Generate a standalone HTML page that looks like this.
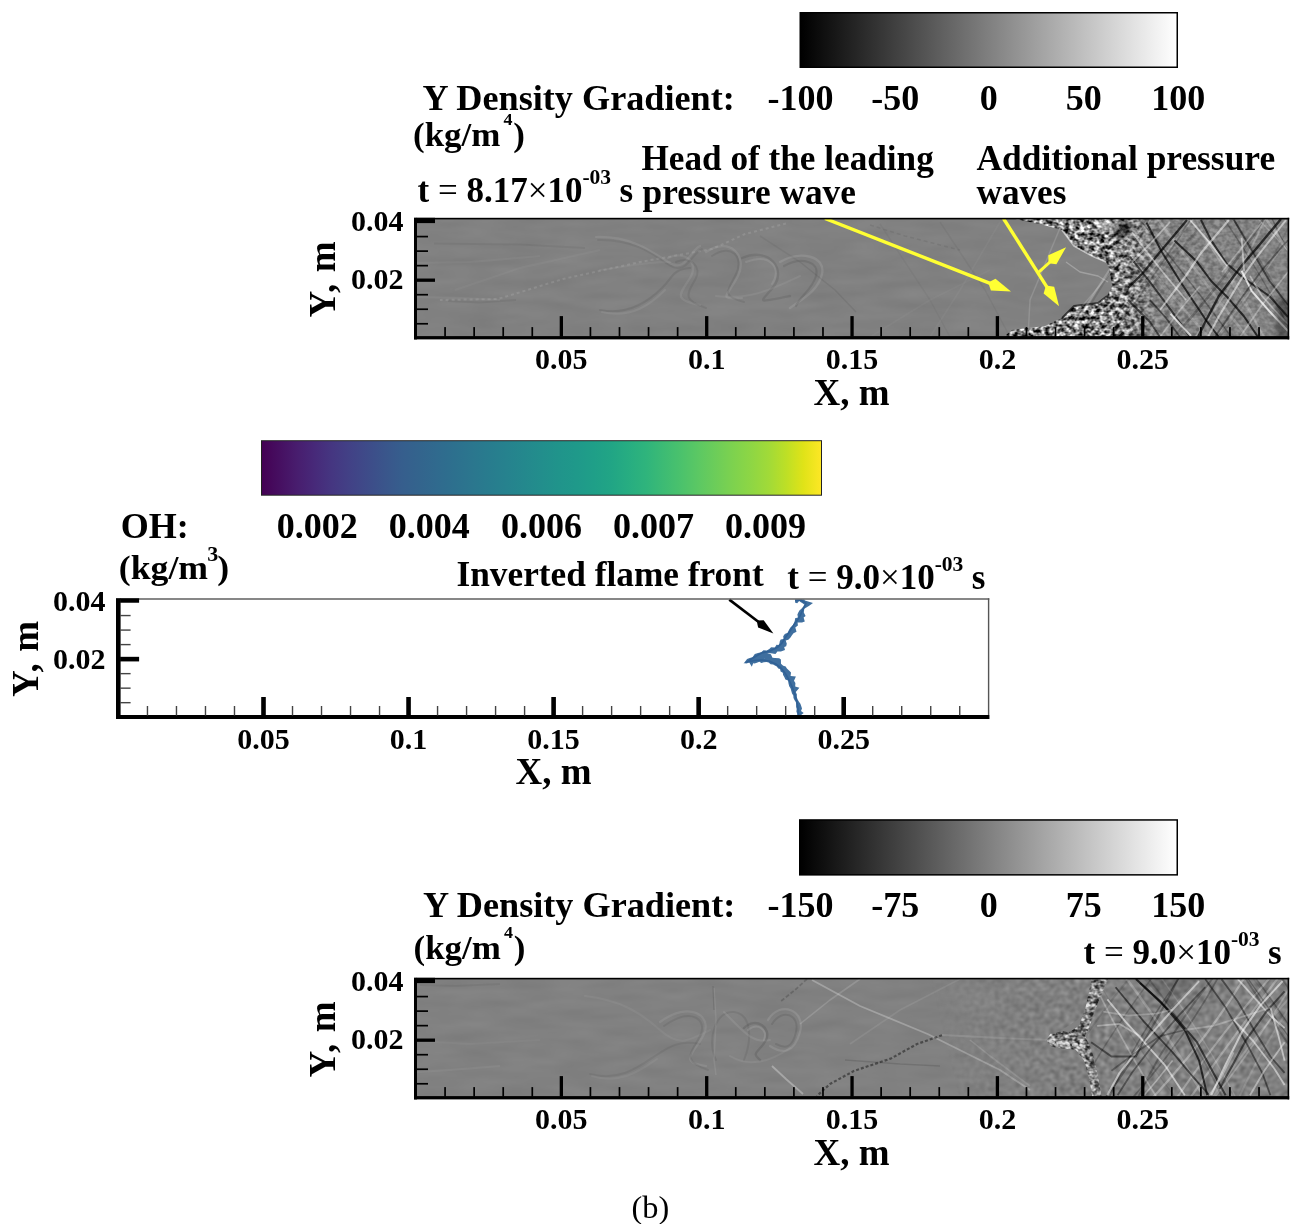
<!DOCTYPE html>
<html lang="en"><head><meta charset="utf-8"><title>Figure (b)</title>
<style>html,body{margin:0;padding:0;background:#fff}svg{display:block}text{font-family:"Liberation Serif", serif;fill:#000}</style>
</head><body>
<svg width="1301" height="1224" viewBox="0 0 1301 1224">
<defs>
<linearGradient id="gray" x1="0" x2="1" y1="0" y2="0"><stop offset="0" stop-color="#000"/><stop offset="1" stop-color="#fff"/></linearGradient>
<linearGradient id="vir" x1="0" x2="1" y1="0" y2="0"><stop offset="0.0000" stop-color="#440154"/><stop offset="0.0312" stop-color="#460f61"/><stop offset="0.0625" stop-color="#481d6e"/><stop offset="0.0938" stop-color="#472979"/><stop offset="0.1250" stop-color="#453681"/><stop offset="0.1562" stop-color="#424186"/><stop offset="0.1875" stop-color="#3e4b89"/><stop offset="0.2188" stop-color="#3a558b"/><stop offset="0.2500" stop-color="#365e8d"/><stop offset="0.2812" stop-color="#33648d"/><stop offset="0.3125" stop-color="#306a8e"/><stop offset="0.3438" stop-color="#2d708e"/><stop offset="0.3750" stop-color="#2b768e"/><stop offset="0.4062" stop-color="#287c8e"/><stop offset="0.4375" stop-color="#26828e"/><stop offset="0.4688" stop-color="#24888d"/><stop offset="0.5000" stop-color="#228e8c"/><stop offset="0.5312" stop-color="#20948b"/><stop offset="0.5625" stop-color="#1f998a"/><stop offset="0.5938" stop-color="#1f9f88"/><stop offset="0.6250" stop-color="#21a585"/><stop offset="0.6562" stop-color="#27ad81"/><stop offset="0.6875" stop-color="#2fb47c"/><stop offset="0.7188" stop-color="#3dbb74"/><stop offset="0.7500" stop-color="#4bc26c"/><stop offset="0.7812" stop-color="#5cc863"/><stop offset="0.8125" stop-color="#6dcd59"/><stop offset="0.8438" stop-color="#7ed24e"/><stop offset="0.8750" stop-color="#8ed644"/><stop offset="0.9062" stop-color="#a1da38"/><stop offset="0.9375" stop-color="#bddf26"/><stop offset="0.9688" stop-color="#e0e318"/><stop offset="1.0000" stop-color="#fde725"/></linearGradient>
<linearGradient id="fade" x1="0" x2="1" y1="0" y2="0"><stop offset="0" stop-color="#828282" stop-opacity="0"/><stop offset="0.12" stop-color="#828282" stop-opacity="0.15"/><stop offset="0.3" stop-color="#828282" stop-opacity="0.8"/><stop offset="1" stop-color="#828282" stop-opacity="0.88"/></linearGradient>
<linearGradient id="mfg" x1="0" x2="1" y1="0" y2="0"><stop offset="0" stop-color="#000"/><stop offset="0.5" stop-color="#555"/><stop offset="1" stop-color="#aaa"/></linearGradient>
<mask id="mfade" maskUnits="userSpaceOnUse" x="925" y="970" width="200" height="140"><rect x="925" y="970" width="200" height="140" fill="url(#mfg)"/></mask>
<filter id="soft" x="-0.05" y="-0.05" width="1.1" height="1.1"><feGaussianBlur stdDeviation="0.6"/></filter>
<filter id="soft2" x="-0.05" y="-0.05" width="1.1" height="1.1"><feGaussianBlur stdDeviation="0.5"/></filter>
<clipPath id="clip1"><rect x="414" y="218" width="875" height="121"/></clipPath>
<clipPath id="clip3"><rect x="414" y="978" width="875" height="121"/></clipPath>
<filter id="noiseA" x="0" y="0" width="1" height="1" color-interpolation-filters="sRGB"><feTurbulence type="fractalNoise" baseFrequency="0.2 0.24" numOctaves="2" seed="7" result="t"/><feColorMatrix in="t" type="matrix" values="2.2 0 0 0 -0.6  2.2 0 0 0 -0.6  2.2 0 0 0 -0.6  0 0 0 0 1"/><feGaussianBlur stdDeviation="0.7"/></filter>
<filter id="noiseB" x="0" y="0" width="1" height="1" color-interpolation-filters="sRGB"><feTurbulence type="fractalNoise" baseFrequency="0.2 0.24" numOctaves="2" seed="19" result="t"/><feColorMatrix in="t" type="matrix" values="1.6 0 0 0 -0.3  1.6 0 0 0 -0.3  1.6 0 0 0 -0.3  0 0 0 0 1"/><feGaussianBlur stdDeviation="0.8"/></filter>
<filter id="mottle" x="0" y="0" width="1" height="1" color-interpolation-filters="sRGB"><feTurbulence type="fractalNoise" baseFrequency="0.02 0.09" numOctaves="2" seed="4" result="t"/><feColorMatrix in="t" type="matrix" values="1 0 0 0 0  1 0 0 0 0  1 0 0 0 0  0 0 0 0 1"/></filter>
<filter id="blur2" x="-0.5" y="-0.5" width="2" height="2"><feGaussianBlur stdDeviation="2.5"/></filter>
</defs>
<rect x="0.00" y="0.00" width="1301.00" height="1224.00" fill="#fff" />
<rect x="799.50" y="12.00" width="378.50" height="56.00" fill="#000" />
<rect x="801.00" y="13.50" width="375.50" height="53.00" fill="url(#gray)" />
<text x="800.50" y="110.40" font-size="36" font-weight="bold" text-anchor="middle" >-100</text>
<text x="895.20" y="110.40" font-size="36" font-weight="bold" text-anchor="middle" >-50</text>
<text x="988.80" y="110.40" font-size="36" font-weight="bold" text-anchor="middle" >0</text>
<text x="1083.80" y="110.40" font-size="36" font-weight="bold" text-anchor="middle" >50</text>
<text x="1178.20" y="110.40" font-size="36" font-weight="bold" text-anchor="middle" >100</text>
<text x="422.50" y="110.40" font-size="36.2" font-weight="bold" text-anchor="start" >Y Density Gradient:</text>
<text transform="translate(413.00 145.80) scale(1.06 1)" font-size="33" font-weight="bold">(kg/m<tspan font-size="17" dy="-20.5" dx="3.0">4</tspan><tspan dy="20.5" dx="0.5">)</tspan></text>
<text x="417.50" y="201.60" font-size="35" font-weight="bold">t <tspan font-weight="normal">=</tspan> 8.17<tspan font-weight="normal">×</tspan>10<tspan font-size="21.5" dy="-18">-03</tspan><tspan dy="18" dx="-0.3"> s</tspan></text>
<text x="641.50" y="170.20" font-size="35.2" font-weight="bold" text-anchor="start" >Head of the leading</text>
<text x="642.50" y="204.30" font-size="35.3" font-weight="bold" text-anchor="start" >pressure wave</text>
<text x="976.50" y="170.20" font-size="35.4" font-weight="bold" text-anchor="start" >Additional pressure</text>
<text x="976.50" y="204.30" font-size="35.2" font-weight="bold" text-anchor="start" >waves</text>
<g clip-path="url(#clip1)">
<rect x="414.00" y="217.80" width="875.20" height="121.60" fill="#818181" />
<rect x="414.00" y="217.80" width="875.20" height="121.60" fill="#808080" filter="url(#mottle)" opacity="0.05"/>
<g opacity="0.5" filter="url(#soft)">
<path d="M434.0 243.5 L520.0 244.5 L585.0 248.0" fill="none" stroke="#000" stroke-opacity="0.1" stroke-width="2" stroke-linejoin="round" />
<path d="M448.0 301.0 L480.0 302.5 L516.0 300.0" fill="none" stroke="#000" stroke-opacity="0.12" stroke-width="2" stroke-linejoin="round" />
<path d="M417.0 263.0 L470.0 262.0 L540.0 256.0" fill="none" stroke="#fff" stroke-opacity="0.08" stroke-width="2" stroke-linejoin="round" />
<path d="M417.0 297.0 L460.0 298.0 L500.0 300.0" fill="none" stroke="#fff" stroke-opacity="0.1" stroke-width="2" stroke-linejoin="round" />
<path d="M786.0 223.5 L745.0 234.0 L712.0 249.0 L640.0 262.0 L563.0 279.0 L498.0 299.0 L440.0 300.0" fill="none" stroke="#fff" stroke-opacity="0.22" stroke-width="2" stroke-linejoin="round" stroke-dasharray="3 3" />
<path d="M455.0 290.0 L520.0 268.0 L600.0 250.0" fill="none" stroke="#fff" stroke-opacity="0.07" stroke-width="2" stroke-linejoin="round" />
<path d="M596 237 C630 236 650 250 668 262 S690 250 700 246" fill="none" stroke="#fff" stroke-opacity="0.16" stroke-width="2.2" stroke-linecap="round" />
<path d="M598 240 C632 239 652 253 669 265 S692 253 702 249" fill="none" stroke="#000" stroke-opacity="0.12" stroke-width="2" stroke-linecap="round" />
<path d="M600 310 C630 316 650 300 662 288 S672 270 690 268" fill="none" stroke="#000" stroke-opacity="0.16" stroke-width="2.2" stroke-linecap="round" />
<path d="M602 312 C633 319 652 303 665 290" fill="none" stroke="#fff" stroke-opacity="0.14" stroke-width="2" stroke-linecap="round" />
<path d="M668 258 C684 250 700 262 690 278 S672 300 700 305" fill="none" stroke="#fff" stroke-opacity="0.15" stroke-width="2.2" stroke-linecap="round" />
<path d="M676 262 C690 256 703 266 695 280 S682 300 706 308" fill="none" stroke="#000" stroke-opacity="0.14" stroke-width="2" stroke-linecap="round" />
<path d="M706 252 C730 236 748 256 738 276 S716 300 742 298" fill="none" stroke="#fff" stroke-opacity="0.18" stroke-width="2.2" stroke-linecap="round" />
<path d="M712 256 C732 242 744 258 736 274 S720 296 744 302" fill="none" stroke="#000" stroke-opacity="0.15" stroke-width="2" stroke-linecap="round" />
<path d="M742 258 C770 246 786 270 774 286 S752 304 790 296" fill="none" stroke="#000" stroke-opacity="0.18" stroke-width="2.4" stroke-linecap="round" />
<path d="M746 262 C772 252 782 270 772 284" fill="none" stroke="#fff" stroke-opacity="0.18" stroke-width="2" stroke-linecap="round" />
<path d="M780 262 C800 250 826 256 822 274 S800 300 790 308" fill="none" stroke="#fff" stroke-opacity="0.2" stroke-width="2.4" stroke-linecap="round" />
<path d="M784 266 C802 256 820 262 816 276 S800 296 796 306" fill="none" stroke="#000" stroke-opacity="0.18" stroke-width="2.2" stroke-linecap="round" />
<path d="M716 296 C750 300 770 290 800 276" fill="none" stroke="#fff" stroke-opacity="0.12" stroke-width="2" stroke-linecap="round" />
<path d="M670 262 C640 262 620 268 600 270" fill="none" stroke="#fff" stroke-opacity="0.1" stroke-width="2" stroke-linecap="round" />
<path d="M800.0 262.0 L835.0 290.0 L856.0 312.0" fill="none" stroke="#000" stroke-opacity="0.14" stroke-width="1.6" stroke-linejoin="round" />
<path d="M760.0 236.0 L800.0 262.0" fill="none" stroke="#000" stroke-opacity="0.1" stroke-width="1.6" stroke-linejoin="round" />
<path d="M870.0 225.0 L905.0 236.0 L960.0 250.0" fill="none" stroke="#000" stroke-opacity="0.14" stroke-width="1.6" stroke-linejoin="round" stroke-dasharray="4 3" />
<path d="M880.0 224.0 L930.0 300.0 L950.0 337.0" fill="none" stroke="#000" stroke-opacity="0.07" stroke-width="1.5" stroke-linejoin="round" />
<path d="M940.0 222.0 L985.0 290.0 L1010.0 337.0" fill="none" stroke="#000" stroke-opacity="0.09" stroke-width="1.5" stroke-linejoin="round" />
<path d="M1000.0 222.0 L960.0 290.0 L930.0 337.0" fill="none" stroke="#fff" stroke-opacity="0.07" stroke-width="1.5" stroke-linejoin="round" />
<path d="M870.0 337.0 L930.0 300.0 L990.0 270.0" fill="none" stroke="#fff" stroke-opacity="0.06" stroke-width="1.5" stroke-linejoin="round" />
</g>
<clipPath id="np1"><polygon points="1010,218 1290,218 1290,340 1000,340 1012,330 1045,326 1062,318 1074,306 1098,303 1107,296 1112,286 1109,268 1106,262 1092,256 1074,246 1062,230 1040,224"/></clipPath>
<g clip-path="url(#np1)">
<rect x="995.00" y="217.80" width="300.00" height="121.60" fill="#808080" filter="url(#noiseA)"/>
<rect x="1100" y="215" width="195" height="130" fill="url(#fade)"/>
</g>
<ellipse cx="1122" cy="230" rx="9" ry="10" fill="#000" opacity="0.55" filter="url(#blur2)"/>
<ellipse cx="1106" cy="226" rx="10" ry="5" fill="#fff" opacity="0.5" filter="url(#blur2)"/>
<path d="M1062.0 230.0 L1074.0 246.0 L1092.0 256.0 L1106.0 262.0" fill="none" stroke="#fff" stroke-opacity="0.55" stroke-width="1.6" stroke-linejoin="round" />
<path d="M1066.0 262.0 L1080.0 272.0 L1098.0 276.0 L1108.0 282.0" fill="none" stroke="#fff" stroke-opacity="0.25" stroke-width="1.4" stroke-linejoin="round" />
<path d="M1062.0 318.0 L1074.0 306.0 L1098.0 303.0 L1107.0 296.0" fill="none" stroke="#000" stroke-opacity="0.6" stroke-width="1.8" stroke-linejoin="round" />
<path d="M1060.0 228.0 L1030.0 300.0 L1028.0 337.0" fill="none" stroke="#fff" stroke-opacity="0.14" stroke-width="1.5" stroke-linejoin="round" />
<g filter="url(#soft2)">
<path d="M1195.8 215.8 Q1144.7 278.6 1095.2 341.4" fill="none" stroke="#fff" stroke-opacity="0.22" stroke-width="1.5" stroke-linecap="round" />
<path d="M1210.4 215.8 Q1152.8 278.6 1114.6 341.4" fill="none" stroke="#000" stroke-opacity="0.12" stroke-width="2.3" stroke-linecap="round" />
<path d="M1254.9 215.8 Q1317.4 278.6 1357.6 341.4" fill="none" stroke="#fff" stroke-opacity="0.22" stroke-width="1.4" stroke-linecap="round" />
<path d="M1088.7 215.8 Q1115.8 278.6 1157.7 341.4" fill="none" stroke="#000" stroke-opacity="0.11" stroke-width="1.8" stroke-linecap="round" />
<path d="M1192.9 215.8 Q1153.4 278.6 1107.1 341.4" fill="none" stroke="#000" stroke-opacity="0.23" stroke-width="1.8" stroke-linecap="round" />
<path d="M1153.1 215.8 Q1109.7 278.6 1049.9 341.4" fill="none" stroke="#fff" stroke-opacity="0.16" stroke-width="1.5" stroke-linecap="round" />
<path d="M1155.8 215.8 Q1200.8 278.6 1250.6 341.4" fill="none" stroke="#fff" stroke-opacity="0.18" stroke-width="2.5" stroke-linecap="round" />
<path d="M1292.6 215.8 Q1339.7 278.6 1367.1 341.4" fill="none" stroke="#000" stroke-opacity="0.30" stroke-width="1.8" stroke-linecap="round" />
<path d="M1270.7 215.8 Q1299.1 278.6 1346.6 341.4" fill="none" stroke="#000" stroke-opacity="0.26" stroke-width="1.4" stroke-linecap="round" />
<path d="M1222.0 215.8 Q1264.5 278.6 1295.9 341.4" fill="none" stroke="#000" stroke-opacity="0.23" stroke-width="1.4" stroke-linecap="round" />
<path d="M1188.1 215.8 Q1237.7 278.6 1264.8 341.4" fill="none" stroke="#fff" stroke-opacity="0.16" stroke-width="2.4" stroke-linecap="round" />
<path d="M1136.6 215.8 Q1189.1 278.6 1234.7 341.4" fill="none" stroke="#000" stroke-opacity="0.30" stroke-width="1.5" stroke-linecap="round" />
<path d="M1148.3 215.8 Q1103.9 278.6 1069.4 341.4" fill="none" stroke="#000" stroke-opacity="0.12" stroke-width="2.0" stroke-linecap="round" />
<path d="M1144.5 215.8 Q1103.2 278.6 1064.1 341.4" fill="none" stroke="#fff" stroke-opacity="0.20" stroke-width="2.0" stroke-linecap="round" />
<path d="M1297.3 215.8 Q1343.4 278.6 1369.8 341.4" fill="none" stroke="#fff" stroke-opacity="0.15" stroke-width="1.5" stroke-linecap="round" />
<path d="M1266.2 215.8 Q1239.9 278.6 1192.1 341.4" fill="none" stroke="#fff" stroke-opacity="0.22" stroke-width="1.8" stroke-linecap="round" />
<path d="M1110.4 215.8 Q1155.2 278.6 1212.4 341.4" fill="none" stroke="#fff" stroke-opacity="0.15" stroke-width="2.4" stroke-linecap="round" />
<path d="M1231.1 215.8 Q1273.1 278.6 1304.4 341.4" fill="none" stroke="#000" stroke-opacity="0.15" stroke-width="2.0" stroke-linecap="round" />
<path d="M1293.8 215.8 Q1265.3 278.6 1216.7 341.4" fill="none" stroke="#000" stroke-opacity="0.10" stroke-width="1.6" stroke-linecap="round" />
<path d="M1194.2 215.8 Q1227.7 278.6 1267.5 341.4" fill="none" stroke="#fff" stroke-opacity="0.13" stroke-width="1.7" stroke-linecap="round" />
<path d="M1303.3 215.8 Q1262.4 278.6 1212.4 341.4" fill="none" stroke="#fff" stroke-opacity="0.13" stroke-width="1.2" stroke-linecap="round" />
<path d="M1264.0 215.8 Q1305.4 278.6 1367.3 341.4" fill="none" stroke="#fff" stroke-opacity="0.25" stroke-width="2.5" stroke-linecap="round" />
<path d="M1265.6 215.8 Q1227.6 278.6 1169.8 341.4" fill="none" stroke="#000" stroke-opacity="0.24" stroke-width="2.5" stroke-linecap="round" />
<path d="M1298.4 215.8 Q1355.0 278.6 1394.1 341.4" fill="none" stroke="#fff" stroke-opacity="0.22" stroke-width="1.7" stroke-linecap="round" />
<path d="M1146.5 222.6 L1161.7 251.8 L1180.7 282.2 L1206.1 320.3 L1218.8 337.0" fill="none" stroke="#000" stroke-opacity="0.7" stroke-width="2" stroke-linejoin="round" />
<path d="M1130.0 256.9 L1150.0 282.0 L1171.9 311.4 L1190.0 337.0" fill="none" stroke="#000" stroke-opacity="0.6" stroke-width="2" stroke-linejoin="round" />
<path d="M1174.4 240.4 L1196.0 260.7 L1211.2 281.0 L1226.4 296.2 L1244.1 316.5 L1258.0 337.0" fill="none" stroke="#000" stroke-opacity="0.7" stroke-width="2" stroke-linejoin="round" />
<path d="M1201.0 220.0 L1211.2 240.4 L1226.4 263.2 L1244.1 278.4 L1269.5 296.2 L1288.0 317.0" fill="none" stroke="#000" stroke-opacity="0.65" stroke-width="2" stroke-linejoin="round" />
<path d="M1234.0 220.0 L1251.8 250.5 L1269.5 281.0 L1288.0 305.0" fill="none" stroke="#000" stroke-opacity="0.5" stroke-width="1.8" stroke-linejoin="round" />
<path d="M1187.0 220.0 L1159.2 253.0 L1142.7 273.3 L1128.0 288.0" fill="none" stroke="#000" stroke-opacity="0.7" stroke-width="2.2" stroke-linejoin="round" />
<path d="M1281.0 219.0 L1256.8 248.0 L1241.6 265.7 L1218.8 296.2 L1206.1 320.3 L1198.0 337.0" fill="none" stroke="#000" stroke-opacity="0.7" stroke-width="2.4" stroke-linejoin="round" />
<path d="M1228.9 220.0 L1201.0 253.0 L1185.8 275.9 L1160.0 310.0" fill="none" stroke="#fff" stroke-opacity="0.5" stroke-width="2" stroke-linejoin="round" />
<path d="M1190.0 220.0 L1210.0 243.0 L1227.0 266.0" fill="none" stroke="#fff" stroke-opacity="0.55" stroke-width="1.8" stroke-linejoin="round" />
<path d="M1241.6 270.8 L1251.8 291.1 L1269.5 311.4 L1288.0 331.0" fill="none" stroke="#fff" stroke-opacity="0.75" stroke-width="2" stroke-linejoin="round" />
<path d="M1250.0 276.0 L1262.0 296.0 L1280.0 316.0 L1290.0 326.0" fill="none" stroke="#fff" stroke-opacity="0.4" stroke-width="1.6" stroke-linejoin="round" />
<path d="M1170.6 313.9 L1190.9 336.0" fill="none" stroke="#fff" stroke-opacity="0.7" stroke-width="2" stroke-linejoin="round" />
<path d="M1286.0 220.0 L1256.8 257.0 L1241.6 278.4 L1218.8 316.5 L1208.0 337.0" fill="none" stroke="#fff" stroke-opacity="0.5" stroke-width="2" stroke-linejoin="round" />
<path d="M1241.6 237.8 L1244.1 270.8" fill="none" stroke="#fff" stroke-opacity="0.45" stroke-width="1.8" stroke-linejoin="round" />
<path d="M1262.0 222.0 L1240.0 250.0 L1222.0 272.0" fill="none" stroke="#fff" stroke-opacity="0.3" stroke-width="1.6" stroke-linejoin="round" />
<path d="M1150.0 300.0 L1166.0 318.0 L1180.0 337.0" fill="none" stroke="#000" stroke-opacity="0.5" stroke-width="1.8" stroke-linejoin="round" />
<path d="M1128.0 300.0 L1150.0 322.0 L1160.0 337.0" fill="none" stroke="#000" stroke-opacity="0.5" stroke-width="1.8" stroke-linejoin="round" />
<path d="M1170.0 222.0 L1150.0 244.0 L1132.0 262.0" fill="none" stroke="#fff" stroke-opacity="0.4" stroke-width="1.8" stroke-linejoin="round" />
<path d="M1132.0 232.0 L1150.0 256.0 L1166.0 276.0 L1186.0 300.0" fill="none" stroke="#fff" stroke-opacity="0.45" stroke-width="1.8" stroke-linejoin="round" />
<path d="M1215.0 337.0 L1240.0 300.0 L1262.0 270.0 L1288.0 240.0" fill="none" stroke="#000" stroke-opacity="0.35" stroke-width="1.8" stroke-linejoin="round" />
<path d="M1240.0 337.0 L1262.0 305.0 L1288.0 272.0" fill="none" stroke="#fff" stroke-opacity="0.3" stroke-width="1.6" stroke-linejoin="round" />
<path d="M1160.0 337.0 L1180.0 310.0 L1200.0 286.0" fill="none" stroke="#fff" stroke-opacity="0.3" stroke-width="1.6" stroke-linejoin="round" />
</g>
<rect x="1276" y="300" width="14" height="40" fill="#000" opacity="0.35" filter="url(#blur2)"/>
</g>
<g clip-path="url(#clip1)">
<line x1="825.0" y1="218.5" x2="990.1" y2="283.4" stroke="#ffff33" stroke-width="3.4"/>
<polygon points="1011.0,291.6 990.9,290.5 988.2,282.6 995.5,278.7" fill="#ffff33" />
<line x1="1003.5" y1="218.5" x2="1047.1" y2="287.3" stroke="#ffff33" stroke-width="3.4"/>
<polygon points="1059.1,306.3 1043.6,293.5 1046.0,285.6 1054.2,286.8" fill="#ffff33" />
<line x1="1038.8" y1="272.1" x2="1050.0" y2="262.0" stroke="#ffff33" stroke-width="3.0"/>
<polygon points="1066.1,247.3 1056.4,264.2 1048.5,263.3 1048.3,255.3" fill="#ffff33" />
</g>
<rect x="414.00" y="217.80" width="875.20" height="1.60" fill="#000" />
<rect x="1287.60" y="217.80" width="1.60" height="121.60" fill="#000" />
<rect x="414.00" y="217.80" width="3.00" height="121.60" fill="#000" />
<rect x="414.00" y="336.10" width="875.20" height="3.30" fill="#000" />
<rect x="416.50" y="322.92" width="11.50" height="1.70" fill="#000" />
<rect x="416.50" y="308.39" width="11.50" height="1.70" fill="#000" />
<rect x="416.50" y="293.86" width="11.50" height="1.70" fill="#000" />
<rect x="416.50" y="278.53" width="18.50" height="3.30" fill="#000" />
<rect x="416.50" y="264.80" width="11.50" height="1.70" fill="#000" />
<rect x="416.50" y="250.27" width="11.50" height="1.70" fill="#000" />
<rect x="416.50" y="235.74" width="11.50" height="1.70" fill="#000" />
<rect x="416.50" y="217.80" width="18.50" height="5.31" fill="#000" />
<rect x="444.22" y="327.10" width="1.70" height="9.50" fill="#000" />
<rect x="473.29" y="327.10" width="1.70" height="9.50" fill="#000" />
<rect x="502.36" y="327.10" width="1.70" height="9.50" fill="#000" />
<rect x="531.43" y="327.10" width="1.70" height="9.50" fill="#000" />
<rect x="559.70" y="316.10" width="3.30" height="20.50" fill="#000" />
<rect x="589.57" y="327.10" width="1.70" height="9.50" fill="#000" />
<rect x="618.64" y="327.10" width="1.70" height="9.50" fill="#000" />
<rect x="647.71" y="327.10" width="1.70" height="9.50" fill="#000" />
<rect x="676.78" y="327.10" width="1.70" height="9.50" fill="#000" />
<rect x="705.05" y="316.10" width="3.30" height="20.50" fill="#000" />
<rect x="734.92" y="327.10" width="1.70" height="9.50" fill="#000" />
<rect x="763.99" y="327.10" width="1.70" height="9.50" fill="#000" />
<rect x="793.06" y="327.10" width="1.70" height="9.50" fill="#000" />
<rect x="822.13" y="327.10" width="1.70" height="9.50" fill="#000" />
<rect x="850.40" y="316.10" width="3.30" height="20.50" fill="#000" />
<rect x="880.27" y="327.10" width="1.70" height="9.50" fill="#000" />
<rect x="909.34" y="327.10" width="1.70" height="9.50" fill="#000" />
<rect x="938.41" y="327.10" width="1.70" height="9.50" fill="#000" />
<rect x="967.48" y="327.10" width="1.70" height="9.50" fill="#000" />
<rect x="995.75" y="316.10" width="3.30" height="20.50" fill="#000" />
<rect x="1025.62" y="327.10" width="1.70" height="9.50" fill="#000" />
<rect x="1054.69" y="327.10" width="1.70" height="9.50" fill="#000" />
<rect x="1083.76" y="327.10" width="1.70" height="9.50" fill="#000" />
<rect x="1112.83" y="327.10" width="1.70" height="9.50" fill="#000" />
<rect x="1141.10" y="316.10" width="3.30" height="20.50" fill="#000" />
<rect x="1170.97" y="327.10" width="1.70" height="9.50" fill="#000" />
<rect x="1200.04" y="327.10" width="1.70" height="9.50" fill="#000" />
<rect x="1229.11" y="327.10" width="1.70" height="9.50" fill="#000" />
<rect x="1258.18" y="327.10" width="1.70" height="9.50" fill="#000" />
<text x="561.35" y="368.80" font-size="30" font-weight="bold" text-anchor="middle" >0.05</text>
<text x="706.70" y="368.80" font-size="30" font-weight="bold" text-anchor="middle" >0.1</text>
<text x="852.05" y="368.80" font-size="30" font-weight="bold" text-anchor="middle" >0.15</text>
<text x="997.40" y="368.80" font-size="30" font-weight="bold" text-anchor="middle" >0.2</text>
<text x="1142.75" y="368.80" font-size="30" font-weight="bold" text-anchor="middle" >0.25</text>
<text x="403.50" y="289.08" font-size="30" font-weight="bold" text-anchor="end" >0.02</text>
<text x="403.50" y="230.96" font-size="30" font-weight="bold" text-anchor="end" >0.04</text>
<text x="851.60" y="404.70" font-size="37" font-weight="bold" text-anchor="middle" >X, m</text>
<text transform="translate(335.4 278.9) rotate(-90)" font-size="37" font-weight="bold" text-anchor="middle" letter-spacing="1.1">Y, m</text>
<rect x="261.00" y="440.20" width="561.00" height="55.50" fill="#222" />
<rect x="262.00" y="441.20" width="559.00" height="53.50" fill="url(#vir)" />
<text x="317.20" y="537.60" font-size="36" font-weight="bold" text-anchor="middle" >0.002</text>
<text x="429.30" y="537.60" font-size="36" font-weight="bold" text-anchor="middle" >0.004</text>
<text x="541.40" y="537.60" font-size="36" font-weight="bold" text-anchor="middle" >0.006</text>
<text x="653.50" y="537.60" font-size="36" font-weight="bold" text-anchor="middle" >0.007</text>
<text x="765.60" y="537.60" font-size="36" font-weight="bold" text-anchor="middle" >0.009</text>
<text x="120.80" y="537.60" font-size="36" font-weight="bold" text-anchor="start" >OH:</text>
<text transform="translate(118.80 578.60) scale(1.05 1)" font-size="34" font-weight="bold">(kg/m<tspan font-size="21" dy="-18" dx="-0.7">3</tspan><tspan dy="18" dx="-1.0">)</tspan></text>
<text x="456.50" y="585.70" font-size="35.3" font-weight="bold" text-anchor="start" >Inverted flame front</text>
<text x="787.30" y="588.70" font-size="35" font-weight="bold">t <tspan font-weight="normal">=</tspan> 9.0<tspan font-weight="normal">×</tspan>10<tspan font-size="21.5" dy="-18">-03</tspan><tspan dy="18" dx="-0.3"> s</tspan></text>
<rect x="116.00" y="598.30" width="873.30" height="120.70" fill="#fff" />
<clipPath id="clip2"><rect x="116" y="599.5" width="873" height="116"/></clipPath>
<g clip-path="url(#clip2)">
<polygon points="795.2,602.7 797.2,603.2 799.1,601.0 800.4,602.1 802.2,602.9 803.8,604.3 804.6,603.6 803.5,606.3 801.2,609.0 799.6,610.3 798.3,612.4 797.4,614.6 797.9,617.4 795.1,618.3 794.8,620.8 794.0,622.9 792.5,625.5 790.4,627.6 788.8,630.2 787.7,632.7 784.8,634.1 783.2,636.3 783.5,639.0 780.7,639.6 779.8,641.2 779.4,643.4 778.5,645.0 776.5,644.8 774.8,647.5 771.1,647.3 769.3,649.1 766.8,650.5 763.5,650.2 761.2,652.2 758.0,653.1 754.8,653.9 752.5,657.2 749.7,658.0 747.1,659.1 743.6,663.6 747.6,662.4 749.7,661.9 754.5,663.4 756.9,662.7 759.3,661.8 761.4,663.0 763.9,662.2 766.5,662.1 768.6,662.5 770.6,664.2 773.1,664.5 774.9,665.6 776.8,666.6 778.2,668.5 780.0,669.0 780.6,671.6 782.8,672.7 783.1,674.9 784.3,677.1 785.4,679.4 788.0,680.5 788.5,683.4 789.2,686.2 790.6,688.5 791.3,690.9 792.0,693.5 793.3,695.5 793.5,698.0 794.6,700.2 795.9,702.2 796.1,704.6 796.1,707.0 796.7,709.1 796.4,711.5 797.2,713.8 797.5,716.1 796.4,716.1 795.5,716.2 804.1,715.7 802.0,715.8 799.8,715.9 803.7,713.1 801.0,711.1 802.0,708.6 801.2,705.9 800.4,703.7 798.8,701.6 797.5,699.3 796.8,697.0 796.9,694.4 795.8,691.9 799.4,687.7 795.2,686.6 795.4,683.1 794.0,680.7 795.9,676.5 790.6,675.9 791.0,672.6 789.3,670.7 786.9,668.5 785.7,666.5 783.2,665.8 781.0,663.7 780.9,659.6 779.2,658.2 774.9,658.1 772.5,657.7 770.9,654.2 766.7,653.2 764.0,658.9 761.7,653.5 758.5,657.5 756.1,658.1 753.5,657.4 758.2,658.5 753.5,660.0 748.7,661.6 751.8,666.7 753.1,663.4 755.2,661.5 756.9,659.0 760.1,658.1 763.8,658.7 765.9,656.7 767.7,653.2 770.8,653.3 775.5,654.0 777.4,651.5 780.9,651.4 785.0,650.1 784.2,647.1 786.2,646.3 786.8,643.7 785.7,640.5 788.3,639.7 790.3,637.7 791.8,635.5 793.5,633.3 796.5,631.8 795.3,627.4 797.9,625.5 797.6,622.5 802.0,622.5 804.8,621.5 803.6,617.6 805.6,615.9 803.8,612.4 804.3,608.7 809.2,605.8 813.0,602.9 804.9,600.4 803.6,597.8 802.2,595.7 798.6,594.9 796.4,592.7 794.4,593.3" fill="#3f6f9f" />
<path d="M795.0 600.5 L801.0 600.0 L806.0 603.5 L802.0 611.5 L799.0 618.0 L794.8 623.4 L790.0 631.0 L785.3 637.7 L782.0 643.0 L778.0 647.0 L770.0 651.0 L761.5 653.0 L753.0 658.0 L746.0 662.7 L754.0 660.5 L761.5 660.0 L769.0 661.0 L775.8 664.0 L781.0 668.0 L785.3 673.4 L789.0 680.0 L792.5 687.7 L795.0 695.0 L797.0 702.0 L798.0 709.0 L798.4 716.0" fill="none" stroke="#2f5f95" stroke-opacity="0.9" stroke-width="1.6" stroke-linejoin="round" />
</g>
<line x1="729.3" y1="599.6" x2="758.3" y2="621.8" stroke="#000" stroke-width="2.6"/>
<polygon points="773.4,633.4 758.1,627.5 756.7,620.6 763.7,620.2" fill="#000" />
<rect x="116.00" y="598.30" width="873.30" height="1.40" fill="#555" />
<rect x="987.90" y="598.30" width="1.40" height="120.70" fill="#555" />
<rect x="116.00" y="598.30" width="4.60" height="120.70" fill="#000" />
<rect x="116.00" y="715.00" width="873.30" height="4.00" fill="#000" />
<rect x="120.10" y="701.98" width="10.50" height="1.40" fill="#444" />
<rect x="120.10" y="687.46" width="10.50" height="1.40" fill="#444" />
<rect x="120.10" y="672.94" width="10.50" height="1.40" fill="#444" />
<rect x="120.10" y="656.82" width="19.00" height="4.60" fill="#000" />
<rect x="120.10" y="643.90" width="10.50" height="1.40" fill="#444" />
<rect x="120.10" y="629.38" width="10.50" height="1.40" fill="#444" />
<rect x="120.10" y="614.86" width="10.50" height="1.40" fill="#444" />
<rect x="120.10" y="598.30" width="19.00" height="4.44" fill="#000" />
<rect x="146.76" y="706.00" width="1.40" height="9.50" fill="#444" />
<rect x="175.77" y="706.00" width="1.40" height="9.50" fill="#444" />
<rect x="204.78" y="706.00" width="1.40" height="9.50" fill="#444" />
<rect x="233.79" y="706.00" width="1.40" height="9.50" fill="#444" />
<rect x="261.20" y="697.00" width="4.60" height="18.50" fill="#000" />
<rect x="291.81" y="706.00" width="1.40" height="9.50" fill="#444" />
<rect x="320.82" y="706.00" width="1.40" height="9.50" fill="#444" />
<rect x="349.83" y="706.00" width="1.40" height="9.50" fill="#444" />
<rect x="378.84" y="706.00" width="1.40" height="9.50" fill="#444" />
<rect x="406.25" y="697.00" width="4.60" height="18.50" fill="#000" />
<rect x="436.86" y="706.00" width="1.40" height="9.50" fill="#444" />
<rect x="465.87" y="706.00" width="1.40" height="9.50" fill="#444" />
<rect x="494.88" y="706.00" width="1.40" height="9.50" fill="#444" />
<rect x="523.89" y="706.00" width="1.40" height="9.50" fill="#444" />
<rect x="551.30" y="697.00" width="4.60" height="18.50" fill="#000" />
<rect x="581.91" y="706.00" width="1.40" height="9.50" fill="#444" />
<rect x="610.92" y="706.00" width="1.40" height="9.50" fill="#444" />
<rect x="639.93" y="706.00" width="1.40" height="9.50" fill="#444" />
<rect x="668.94" y="706.00" width="1.40" height="9.50" fill="#444" />
<rect x="696.35" y="697.00" width="4.60" height="18.50" fill="#000" />
<rect x="726.96" y="706.00" width="1.40" height="9.50" fill="#444" />
<rect x="755.97" y="706.00" width="1.40" height="9.50" fill="#444" />
<rect x="784.98" y="706.00" width="1.40" height="9.50" fill="#444" />
<rect x="813.99" y="706.00" width="1.40" height="9.50" fill="#444" />
<rect x="841.40" y="697.00" width="4.60" height="18.50" fill="#000" />
<rect x="872.01" y="706.00" width="1.40" height="9.50" fill="#444" />
<rect x="901.02" y="706.00" width="1.40" height="9.50" fill="#444" />
<rect x="930.03" y="706.00" width="1.40" height="9.50" fill="#444" />
<rect x="959.04" y="706.00" width="1.40" height="9.50" fill="#444" />
<text x="263.50" y="749.00" font-size="30" font-weight="bold" text-anchor="middle" >0.05</text>
<text x="408.55" y="749.00" font-size="30" font-weight="bold" text-anchor="middle" >0.1</text>
<text x="553.60" y="749.00" font-size="30" font-weight="bold" text-anchor="middle" >0.15</text>
<text x="698.65" y="749.00" font-size="30" font-weight="bold" text-anchor="middle" >0.2</text>
<text x="843.70" y="749.00" font-size="30" font-weight="bold" text-anchor="middle" >0.25</text>
<text x="105.50" y="669.02" font-size="30" font-weight="bold" text-anchor="end" >0.02</text>
<text x="105.50" y="610.94" font-size="30" font-weight="bold" text-anchor="end" >0.04</text>
<text x="553.50" y="784.00" font-size="37" font-weight="bold" text-anchor="middle" >X, m</text>
<text transform="translate(37.7 658.4) rotate(-90)" font-size="37" font-weight="bold" text-anchor="middle" letter-spacing="1.1">Y, m</text>
<rect x="799.00" y="819.20" width="379.00" height="56.40" fill="#000" />
<rect x="800.50" y="820.70" width="376.00" height="53.40" fill="url(#gray)" />
<text x="800.50" y="917.40" font-size="36" font-weight="bold" text-anchor="middle" >-150</text>
<text x="895.20" y="917.40" font-size="36" font-weight="bold" text-anchor="middle" >-75</text>
<text x="988.80" y="917.40" font-size="36" font-weight="bold" text-anchor="middle" >0</text>
<text x="1083.80" y="917.40" font-size="36" font-weight="bold" text-anchor="middle" >75</text>
<text x="1178.20" y="917.40" font-size="36" font-weight="bold" text-anchor="middle" >150</text>
<text x="423.00" y="917.40" font-size="36.2" font-weight="bold" text-anchor="start" >Y Density Gradient:</text>
<text transform="translate(413.50 958.60) scale(1.06 1)" font-size="33" font-weight="bold">(kg/m<tspan font-size="17" dy="-20.5" dx="3.0">4</tspan><tspan dy="20.5" dx="0.5">)</tspan></text>
<text x="1083.50" y="963.90" font-size="35" font-weight="bold">t <tspan font-weight="normal">=</tspan> 9.0<tspan font-weight="normal">×</tspan>10<tspan font-size="21.5" dy="-18">-03</tspan><tspan dy="18" dx="-0.3"> s</tspan></text>
<g clip-path="url(#clip3)">
<rect x="414.00" y="977.80" width="875.20" height="121.60" fill="#818181" />
<rect x="414.00" y="977.80" width="875.20" height="121.60" fill="#808080" filter="url(#mottle)" opacity="0.05"/>
<g opacity="0.5" filter="url(#soft)">
<path d="M420.0 985.0 L455.0 986.0 L500.0 984.0" fill="none" stroke="#000" stroke-opacity="0.1" stroke-width="2" stroke-linejoin="round" />
<path d="M417.0 1072.0 L450.0 1070.0 L500.0 1066.0" fill="none" stroke="#fff" stroke-opacity="0.1" stroke-width="2" stroke-linejoin="round" />
<path d="M417.0 1041.0 L470.0 1044.0 L540.0 1040.0" fill="none" stroke="#fff" stroke-opacity="0.06" stroke-width="2" stroke-linejoin="round" />
<path d="M585 996 C620 1000 640 1012 660 1030 S690 1040 710 1030" fill="none" stroke="#fff" stroke-opacity="0.1" stroke-width="2" stroke-linecap="round" />
<path d="M590 1074 C620 1082 640 1066 655 1056 S680 1040 700 1044" fill="none" stroke="#000" stroke-opacity="0.12" stroke-width="2" stroke-linecap="round" />
<path d="M592 1076 C622 1085 642 1069 657 1059" fill="none" stroke="#fff" stroke-opacity="0.1" stroke-width="2" stroke-linecap="round" />
<path d="M660 1022 C690 1000 712 1016 704 1034 S676 1062 706 1066" fill="none" stroke="#fff" stroke-opacity="0.16" stroke-width="2.2" stroke-linecap="round" />
<path d="M664 1026 C692 1006 708 1020 700 1036 S680 1060 708 1070" fill="none" stroke="#000" stroke-opacity="0.14" stroke-width="2" stroke-linecap="round" />
<path d="M716 1060 C706 1040 716 1010 734 1012 S752 1040 744 1060" fill="none" stroke="#000" stroke-opacity="0.14" stroke-width="2" stroke-linecap="round" />
<path d="M724 1012 C742 1030 752 1044 770 1040" fill="none" stroke="#fff" stroke-opacity="0.16" stroke-width="2" stroke-linecap="round" />
<path d="M744 1028 C756 1016 772 1028 766 1040 S750 1052 760 1060" fill="none" stroke="#000" stroke-opacity="0.22" stroke-width="2.4" stroke-linecap="round" />
<path d="M748 1030 C758 1022 768 1030 764 1040" fill="none" stroke="#fff" stroke-opacity="0.22" stroke-width="2" stroke-linecap="round" />
<path d="M768 1020 C780 1000 806 1010 800 1032 S782 1054 770 1046" fill="none" stroke="#fff" stroke-opacity="0.2" stroke-width="2.2" stroke-linecap="round" />
<path d="M772 1024 C782 1008 800 1014 796 1032 S784 1048 776 1044" fill="none" stroke="#000" stroke-opacity="0.18" stroke-width="2" stroke-linecap="round" />
<path d="M730 1056 C750 1068 770 1062 790 1048" fill="none" stroke="#fff" stroke-opacity="0.12" stroke-width="2" stroke-linecap="round" />
<path d="M714.0 988.0 L716.0 1020.0 L714.0 1060.0 L716.0 1075.0" fill="none" stroke="#fff" stroke-opacity="0.16" stroke-width="1.5" stroke-linejoin="round" />
<path d="M713.0 986.0 L714.0 1010.0" fill="none" stroke="#000" stroke-opacity="0.2" stroke-width="1.4" stroke-linejoin="round" />
</g>
<g filter="url(#soft)">
<path d="M812.0 980.0 L860.0 1006.0 L927.6 1034.0 L1000.0 1070.0 L1030.0 1090.0" fill="none" stroke="#fff" stroke-opacity="0.26" stroke-width="1.8" stroke-linejoin="round" />
<path d="M942.0 1035.3 L917.0 1044.0 L890.7 1058.6 L853.8 1071.0 L830.0 1084.0 L816.9 1096.0" fill="none" stroke="#000" stroke-opacity="0.42" stroke-width="2.2" stroke-linejoin="round" stroke-dasharray="3 2" />
<path d="M807.0 979.0 L795.0 990.0 L780.0 1002.0" fill="none" stroke="#000" stroke-opacity="0.18" stroke-width="1.8" stroke-linejoin="round" stroke-dasharray="4 2" />
<path d="M772.0 1066.0 L786.0 1079.0 L803.0 1094.0" fill="none" stroke="#fff" stroke-opacity="0.3" stroke-width="1.8" stroke-linejoin="round" />
<path d="M860.0 979.0 L830.0 1000.0 L800.0 1024.0" fill="none" stroke="#fff" stroke-opacity="0.14" stroke-width="1.6" stroke-linejoin="round" />
<path d="M960.0 979.0 L900.0 1010.0 L850.0 1044.0" fill="none" stroke="#fff" stroke-opacity="0.08" stroke-width="1.6" stroke-linejoin="round" />
<path d="M942.0 1035.0 L1000.0 1038.0 L1050.0 1040.0" fill="none" stroke="#fff" stroke-opacity="0.12" stroke-width="1.8" stroke-linejoin="round" />
<path d="M970.0 1040.0 L990.0 1056.0 L1030.0 1086.0" fill="none" stroke="#fff" stroke-opacity="0.14" stroke-width="1.6" stroke-linejoin="round" />
<path d="M845.0 1060.0 L900.0 1064.0 L940.0 1066.0" fill="none" stroke="#000" stroke-opacity="0.12" stroke-width="1.6" stroke-linejoin="round" />
</g>
<clipPath id="mp3"><polygon points="930,978 1100,978 1086,1014 1050,1038 1084,1048 1096,1100 960,1100"/></clipPath>
<g clip-path="url(#mp3)">
<rect x="925.00" y="977.80" width="200.00" height="121.60" fill="#808080" filter="url(#noiseB)" opacity="0.5" mask="url(#mfade)"/>
</g>
<clipPath id="np3"><polygon points="1092,978 1109,978 1101,996 1094,1012 1090,1026 1085,1036 1090,1046 1094,1058 1098,1076 1102,1100 1093,1100 1089,1078 1084,1060 1076,1050 1052,1047 1046,1040 1051,1033 1068,1033 1079,1026 1085,1010"/></clipPath>
<g clip-path="url(#np3)">
<rect x="1035.00" y="977.80" width="90.00" height="121.60" fill="#808080" filter="url(#noiseA)"/>
<rect x="1035.00" y="977.80" width="90.00" height="121.60" fill="#8a8a8a" opacity="0.25"/>
</g>
<path d="M1056.0 1034.0 L1062.0 1032.0 L1068.0 1033.5 L1075.0 1031.0 L1083.0 1031.5 L1090.0 1029.0" fill="none" stroke="#000" stroke-opacity="0.5" stroke-width="2.2" stroke-linejoin="round" stroke-dasharray="5 2" filter="url(#soft)"/>
<path d="M1049.0 1041.0 L1056.0 1043.5 L1063.0 1042.0 L1070.0 1045.0 L1078.0 1044.0 L1086.0 1047.0" fill="none" stroke="#fff" stroke-opacity="0.6" stroke-width="2.6" stroke-linejoin="round" stroke-dasharray="6 2" filter="url(#soft)"/>
<clipPath id="bp3"><polygon points="1106,978 1290,978 1290,1100 1098,1100 1095,1076 1091,1056 1087,1040 1090,1026 1095,1012 1101,996"/></clipPath>
<g clip-path="url(#bp3)">
<rect x="1085.00" y="977.80" width="210.00" height="121.60" fill="#808080" filter="url(#noiseB)" opacity="0.28"/>
<g filter="url(#soft2)">
<path d="M1309.7 975.8 Q1250.0 1038.6 1210.3 1101.4" fill="none" stroke="#fff" stroke-opacity="0.18" stroke-width="1.9" stroke-linecap="round" />
<path d="M1095.2 975.8 Q1130.0 1038.6 1178.3 1101.4" fill="none" stroke="#000" stroke-opacity="0.10" stroke-width="1.3" stroke-linecap="round" />
<path d="M1251.7 975.8 Q1300.1 1038.6 1337.3 1101.4" fill="none" stroke="#000" stroke-opacity="0.11" stroke-width="2.3" stroke-linecap="round" />
<path d="M1219.1 975.8 Q1185.6 1038.6 1129.5 1101.4" fill="none" stroke="#000" stroke-opacity="0.25" stroke-width="1.7" stroke-linecap="round" />
<path d="M1214.5 975.8 Q1165.3 1038.6 1136.1 1101.4" fill="none" stroke="#000" stroke-opacity="0.24" stroke-width="2.0" stroke-linecap="round" />
<path d="M1180.8 975.8 Q1136.3 1038.6 1107.3 1101.4" fill="none" stroke="#000" stroke-opacity="0.26" stroke-width="1.5" stroke-linecap="round" />
<path d="M1090.9 975.8 Q1119.6 1038.6 1159.2 1101.4" fill="none" stroke="#fff" stroke-opacity="0.26" stroke-width="1.7" stroke-linecap="round" />
<path d="M1159.8 975.8 Q1205.5 1038.6 1237.8 1101.4" fill="none" stroke="#fff" stroke-opacity="0.15" stroke-width="1.3" stroke-linecap="round" />
<path d="M1271.6 975.8 Q1216.8 1038.6 1174.5 1101.4" fill="none" stroke="#fff" stroke-opacity="0.28" stroke-width="2.0" stroke-linecap="round" />
<path d="M1315.3 975.8 Q1355.8 1038.6 1417.7 1101.4" fill="none" stroke="#000" stroke-opacity="0.10" stroke-width="2.3" stroke-linecap="round" />
<path d="M1245.5 975.8 Q1208.2 1038.6 1149.3 1101.4" fill="none" stroke="#fff" stroke-opacity="0.30" stroke-width="2.2" stroke-linecap="round" />
<path d="M1153.5 975.8 Q1105.8 1038.6 1072.8 1101.4" fill="none" stroke="#000" stroke-opacity="0.19" stroke-width="1.5" stroke-linecap="round" />
<path d="M1312.1 975.8 Q1265.2 1038.6 1237.3 1101.4" fill="none" stroke="#fff" stroke-opacity="0.13" stroke-width="2.0" stroke-linecap="round" />
<path d="M1279.5 975.8 Q1330.2 1038.6 1361.7 1101.4" fill="none" stroke="#000" stroke-opacity="0.17" stroke-width="2.4" stroke-linecap="round" />
<path d="M1279.7 975.8 Q1231.6 1038.6 1187.7 1101.4" fill="none" stroke="#fff" stroke-opacity="0.27" stroke-width="2.1" stroke-linecap="round" />
<path d="M1124.4 975.8 Q1171.8 1038.6 1206.2 1101.4" fill="none" stroke="#fff" stroke-opacity="0.21" stroke-width="2.4" stroke-linecap="round" />
<path d="M1254.0 975.8 Q1301.1 1038.6 1334.6 1101.4" fill="none" stroke="#000" stroke-opacity="0.27" stroke-width="1.5" stroke-linecap="round" />
<path d="M1243.9 975.8 Q1283.7 1038.6 1327.2 1101.4" fill="none" stroke="#000" stroke-opacity="0.24" stroke-width="1.9" stroke-linecap="round" />
<path d="M1246.0 975.8 Q1290.2 1038.6 1333.2 1101.4" fill="none" stroke="#000" stroke-opacity="0.28" stroke-width="1.3" stroke-linecap="round" />
<path d="M1296.7 975.8 Q1260.8 1038.6 1211.6 1101.4" fill="none" stroke="#fff" stroke-opacity="0.22" stroke-width="1.6" stroke-linecap="round" />
<path d="M1146.3 975.8 Q1196.3 1038.6 1224.2 1101.4" fill="none" stroke="#000" stroke-opacity="0.18" stroke-width="1.8" stroke-linecap="round" />
<path d="M1280.5 975.8 Q1318.1 1038.6 1367.5 1101.4" fill="none" stroke="#000" stroke-opacity="0.12" stroke-width="1.5" stroke-linecap="round" />
<path d="M1131.2 975.8 Q1079.3 1038.6 1046.0 1101.4" fill="none" stroke="#000" stroke-opacity="0.12" stroke-width="2.0" stroke-linecap="round" />
<path d="M1179.4 975.8 Q1149.6 1038.6 1103.0 1101.4" fill="none" stroke="#000" stroke-opacity="0.30" stroke-width="2.1" stroke-linecap="round" />
<path d="M1135.9 979.1 L1160.4 1001.5 L1184.8 1030.0 L1199.1 1060.6 L1207.2 1095.2" fill="none" stroke="#000" stroke-opacity="0.7" stroke-width="2" stroke-linejoin="round" />
<path d="M1115.6 987.2 L1144.1 1021.9 L1172.6 1052.4 L1193.0 1076.9 L1209.3 1095.2" fill="none" stroke="#000" stroke-opacity="0.55" stroke-width="1.8" stroke-linejoin="round" />
<path d="M1140.0 983.1 L1172.6 1013.7 L1197.0 1042.2 L1213.3 1072.8 L1225.6 1095.2" fill="none" stroke="#000" stroke-opacity="0.6" stroke-width="2" stroke-linejoin="round" />
<path d="M1107.4 999.4 L1125.7 1021.9 L1144.1 1042.2 L1164.4 1064.6 L1184.8 1095.2" fill="none" stroke="#fff" stroke-opacity="0.55" stroke-width="1.8" stroke-linejoin="round" />
<path d="M1205.2 979.1 L1225.6 1007.6 L1245.9 1042.2 L1262.2 1072.8 L1270.4 1095.2" fill="none" stroke="#000" stroke-opacity="0.45" stroke-width="1.8" stroke-linejoin="round" />
<path d="M1221.5 979.1 L1237.8 1001.5 L1254.1 1030.0 L1270.4 1056.5 L1284.6 1072.8" fill="none" stroke="#000" stroke-opacity="0.45" stroke-width="1.8" stroke-linejoin="round" />
<path d="M1237.8 979.1 L1254.1 997.4 L1270.4 1015.7 L1284.6 1028.0" fill="none" stroke="#fff" stroke-opacity="0.5" stroke-width="1.8" stroke-linejoin="round" />
<path d="M1270.4 1007.6 L1278.5 1036.1 L1284.6 1060.6" fill="none" stroke="#fff" stroke-opacity="0.5" stroke-width="1.8" stroke-linejoin="round" />
<path d="M1233.7 1019.8 L1254.1 1042.2 L1274.4 1068.7 L1284.6 1085.0" fill="none" stroke="#fff" stroke-opacity="0.5" stroke-width="1.8" stroke-linejoin="round" />
<path d="M1199.1 981.1 L1172.6 1009.6 L1144.1 1042.2 L1119.6 1072.8 L1107.4 1095.2" fill="none" stroke="#fff" stroke-opacity="0.5" stroke-width="2" stroke-linejoin="round" />
<path d="M1205.2 987.2 L1178.7 1015.7 L1152.2 1046.3 L1131.9 1072.8 L1117.6 1095.2" fill="none" stroke="#000" stroke-opacity="0.4" stroke-width="1.8" stroke-linejoin="round" />
<path d="M1282.6 981.1 L1260.2 1005.6 L1241.9 1032.0 L1225.6 1064.6 L1211.3 1095.2" fill="none" stroke="#fff" stroke-opacity="0.55" stroke-width="2" stroke-linejoin="round" />
<path d="M1284.6 991.3 L1266.3 1011.7 L1245.9 1040.2 L1231.7 1066.7 L1219.4 1089.1" fill="none" stroke="#000" stroke-opacity="0.5" stroke-width="2" stroke-linejoin="round" />
<path d="M1284.6 1042.2 L1264.3 1070.7 L1250.0 1095.2" fill="none" stroke="#fff" stroke-opacity="0.4" stroke-width="1.8" stroke-linejoin="round" />
<path d="M1233.7 1052.4 L1221.5 1076.9 L1209.3 1095.2" fill="none" stroke="#fff" stroke-opacity="0.35" stroke-width="1.6" stroke-linejoin="round" />
<path d="M1172.6 1060.6 L1156.3 1080.9 L1144.1 1095.2" fill="none" stroke="#fff" stroke-opacity="0.35" stroke-width="1.6" stroke-linejoin="round" />
<path d="M1091.1 1042.2 L1111.5 1056.5 L1135.9 1056.5 L1144.1 1040.2" fill="none" stroke="#000" stroke-opacity="0.45" stroke-width="2" stroke-linejoin="round" />
<path d="M1097.2 1025.9 L1119.6 1023.9 L1140.0 1036.1 L1144.1 1042.2" fill="none" stroke="#fff" stroke-opacity="0.35" stroke-width="1.8" stroke-linejoin="round" />
<path d="M1103.3 1011.7 L1127.8 1015.7 L1156.3 1013.7 L1172.6 1009.6" fill="none" stroke="#fff" stroke-opacity="0.25" stroke-width="1.8" stroke-linejoin="round" />
<path d="M1111.5 1070.7 L1135.9 1052.4 L1160.4 1036.1 L1184.8 1030.0" fill="none" stroke="#000" stroke-opacity="0.3" stroke-width="1.8" stroke-linejoin="round" />
<path d="M1184.8 1030.0 L1213.3 1025.9 L1245.9 1015.7 L1270.4 1007.6" fill="none" stroke="#fff" stroke-opacity="0.25" stroke-width="1.8" stroke-linejoin="round" />
</g>
</g>
<polygon points="1144.1,980.1 1197.0,980.1 1170.6,1007.6" fill="#000" opacity="0.12"/>
</g>
<rect x="414.00" y="977.80" width="875.20" height="1.60" fill="#000" />
<rect x="1287.60" y="977.80" width="1.60" height="121.60" fill="#000" />
<rect x="414.00" y="977.80" width="3.00" height="121.60" fill="#000" />
<rect x="414.00" y="1096.10" width="875.20" height="3.30" fill="#000" />
<rect x="416.50" y="1082.92" width="11.50" height="1.70" fill="#000" />
<rect x="416.50" y="1068.39" width="11.50" height="1.70" fill="#000" />
<rect x="416.50" y="1053.86" width="11.50" height="1.70" fill="#000" />
<rect x="416.50" y="1038.53" width="18.50" height="3.30" fill="#000" />
<rect x="416.50" y="1024.80" width="11.50" height="1.70" fill="#000" />
<rect x="416.50" y="1010.27" width="11.50" height="1.70" fill="#000" />
<rect x="416.50" y="995.74" width="11.50" height="1.70" fill="#000" />
<rect x="416.50" y="977.80" width="18.50" height="5.31" fill="#000" />
<rect x="444.22" y="1087.10" width="1.70" height="9.50" fill="#000" />
<rect x="473.29" y="1087.10" width="1.70" height="9.50" fill="#000" />
<rect x="502.36" y="1087.10" width="1.70" height="9.50" fill="#000" />
<rect x="531.43" y="1087.10" width="1.70" height="9.50" fill="#000" />
<rect x="559.70" y="1076.10" width="3.30" height="20.50" fill="#000" />
<rect x="589.57" y="1087.10" width="1.70" height="9.50" fill="#000" />
<rect x="618.64" y="1087.10" width="1.70" height="9.50" fill="#000" />
<rect x="647.71" y="1087.10" width="1.70" height="9.50" fill="#000" />
<rect x="676.78" y="1087.10" width="1.70" height="9.50" fill="#000" />
<rect x="705.05" y="1076.10" width="3.30" height="20.50" fill="#000" />
<rect x="734.92" y="1087.10" width="1.70" height="9.50" fill="#000" />
<rect x="763.99" y="1087.10" width="1.70" height="9.50" fill="#000" />
<rect x="793.06" y="1087.10" width="1.70" height="9.50" fill="#000" />
<rect x="822.13" y="1087.10" width="1.70" height="9.50" fill="#000" />
<rect x="850.40" y="1076.10" width="3.30" height="20.50" fill="#000" />
<rect x="880.27" y="1087.10" width="1.70" height="9.50" fill="#000" />
<rect x="909.34" y="1087.10" width="1.70" height="9.50" fill="#000" />
<rect x="938.41" y="1087.10" width="1.70" height="9.50" fill="#000" />
<rect x="967.48" y="1087.10" width="1.70" height="9.50" fill="#000" />
<rect x="995.75" y="1076.10" width="3.30" height="20.50" fill="#000" />
<rect x="1025.62" y="1087.10" width="1.70" height="9.50" fill="#000" />
<rect x="1054.69" y="1087.10" width="1.70" height="9.50" fill="#000" />
<rect x="1083.76" y="1087.10" width="1.70" height="9.50" fill="#000" />
<rect x="1112.83" y="1087.10" width="1.70" height="9.50" fill="#000" />
<rect x="1141.10" y="1076.10" width="3.30" height="20.50" fill="#000" />
<rect x="1170.97" y="1087.10" width="1.70" height="9.50" fill="#000" />
<rect x="1200.04" y="1087.10" width="1.70" height="9.50" fill="#000" />
<rect x="1229.11" y="1087.10" width="1.70" height="9.50" fill="#000" />
<rect x="1258.18" y="1087.10" width="1.70" height="9.50" fill="#000" />
<text x="561.35" y="1128.80" font-size="30" font-weight="bold" text-anchor="middle" >0.05</text>
<text x="706.70" y="1128.80" font-size="30" font-weight="bold" text-anchor="middle" >0.1</text>
<text x="852.05" y="1128.80" font-size="30" font-weight="bold" text-anchor="middle" >0.15</text>
<text x="997.40" y="1128.80" font-size="30" font-weight="bold" text-anchor="middle" >0.2</text>
<text x="1142.75" y="1128.80" font-size="30" font-weight="bold" text-anchor="middle" >0.25</text>
<text x="403.50" y="1049.08" font-size="30" font-weight="bold" text-anchor="end" >0.02</text>
<text x="403.50" y="990.96" font-size="30" font-weight="bold" text-anchor="end" >0.04</text>
<text x="851.60" y="1164.70" font-size="37" font-weight="bold" text-anchor="middle" >X, m</text>
<text transform="translate(335.4 1038.9) rotate(-90)" font-size="37" font-weight="bold" text-anchor="middle" letter-spacing="1.1">Y, m</text>
<text x="650.40" y="1217.60" font-size="32.3" font-weight="normal" text-anchor="middle" >(b)</text>
</svg></body></html>
